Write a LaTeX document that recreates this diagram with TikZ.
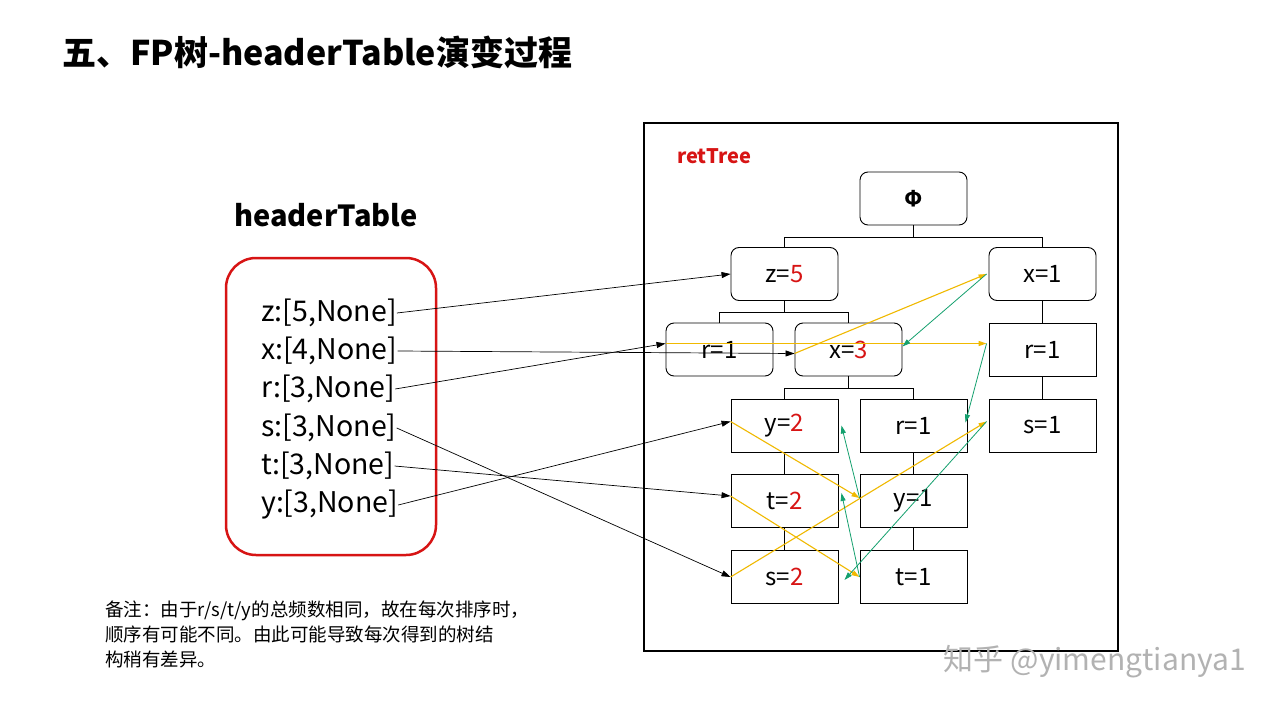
\documentclass[tikz,border=0pt]{standalone}
\usepackage{fontspec}
\setmainfont{Noto Sans CJK SC}
\usetikzlibrary{arrows.meta}
\begin{document}
\begin{tikzpicture}[x=1pt,y=-1pt,
 nd/.style={draw,line width=0.9pt,minimum width=107pt,minimum height=53pt,inner sep=0pt,font=\fontsize{24}{24}\selectfont},
 rnd/.style={nd,rounded corners=8pt},
 tl/.style={line width=0.8pt},
 blk/.style={-{Triangle[length=9pt,width=6pt]},line width=0.7pt},
 yel/.style={-{Triangle[length=8pt,width=5pt]},line width=1.1pt,color={rgb,255:red,240;green,185;blue,0}},
 grn/.style={-{Triangle[length=8pt,width=5pt]},line width=0.8pt,color={rgb,255:red,20;green,160;blue,110}},
 hd/.style={anchor=west,inner sep=0pt,font=\fontsize{28.5}{28.5}\selectfont}]
\useasboundingbox (0,0) rectangle (1280,720);
\fill[white] (0,0) rectangle (1280,720);
\node[anchor=west,inner sep=0pt,font=\fontsize{34}{34}\selectfont\bfseries] (title) at (62,52) {五、FP树-headerTable演变过程};
\node[font=\fontsize{29}{29}\selectfont\bfseries] (ht) at (326,215) {headerTable};
\draw[line width=2.5pt,color={rgb,255:red,215;green,20;blue,20},rounded corners=30pt] (226,258) rectangle (436,555);
\node[hd] (hz) at (261,313) {z:[5,None]};
\node[hd] (hx) at (261,351) {x:[4,None]};
\node[hd] (hr) at (261,389) {r:[3,None]};
\node[hd] (hs) at (261,428) {s:[3,None]};
\node[hd] (hT) at (261,466) {t:[3,None]};
\node[hd] (hy) at (261,505) {y:[3,None]};
\draw[line width=2.5pt] (644,123) rectangle (1118,651);
\node[anchor=west,inner sep=0pt,font=\fontsize{20}{20}\selectfont\bfseries,color={rgb,255:red,215;green,20;blue,20}] (rt) at (677,156) {retTree};
\node[rnd,font=\fontsize{21}{21}\selectfont\bfseries] (phi) at (913.5,198.5) {Φ};
\node[rnd] (z5) at (784.5,274) {z=\textcolor[RGB]{215,20,20}{5}};
\node[rnd] (x1) at (1042.5,274) {x=1};
\node[rnd] (r1a) at (719.5,349.5) {r=1};
\node[rnd] (x3) at (848.5,349.5) {x=\textcolor[RGB]{215,20,20}{3}};
\node[nd] (r1b) at (1042.5,349.5) {r=1};
\node[nd] (y2) at (784.5,425.5) {y=\textcolor[RGB]{215,20,20}{2}};
\node[nd] (r1c) at (913.5,425.5) {r=1};
\node[nd] (s1) at (1042.5,425.5) {s=1};
\node[nd] (t2) at (784.5,501) {t=\textcolor[RGB]{215,20,20}{2}};
\node[nd] (y1) at (913.5,501) {y=1};
\node[nd] (s2) at (784.5,577) {s=\textcolor[RGB]{215,20,20}{2}};
\node[nd] (t1) at (913.5,577) {t=1};
% tree lines
\draw[tl] (phi.south) -- (913.5,237) -| (z5.north);
\draw[tl] (913.5,237) -| (x1.north);
\draw[tl] (z5.south) -- (784.5,312) -| (r1a.north);
\draw[tl] (784.5,312) -| (x3.north);
\draw[tl] (x3.south) -- (848.5,388) -| (y2.north);
\draw[tl] (848.5,388) -| (r1c.north);
\draw[tl] (x1) -- (r1b) (r1b) -- (s1) (y2) -- (t2) (t2) -- (s2) (r1c) -- (y1) (y1) -- (t1);
% black
\draw[blk] (hz.east) -- (z5.west);
\draw[blk] (hx.east) -- ([yshift=-4pt]x3.west);
\draw[blk] (hr.east) -- ([yshift=6pt]r1a.west);
\draw[blk] (hs.east) -- ([yshift=0pt]s2.west);
\draw[blk] (hT.east) -- ([yshift=5pt]t2.west);
\draw[blk] (hy.east) -- ([yshift=4pt]y2.west);
% yellow
\draw[yel] ([yshift=-4pt]x3.west) -- ([xshift=-2pt]x1.west);
\draw[yel] ([yshift=6pt]r1a.west) -- ([yshift=6pt,xshift=-2pt]r1b.west);
\draw[yel] ([yshift=4pt]y2.west) -- ([yshift=3pt]y1.west);
\draw[yel] ([yshift=5pt]t2.west) -- (t1.west);
\draw[yel] (s2.west) -- ([yshift=4pt,xshift=-2pt]s1.west);
% green
\draw[grn] ([xshift=-2pt]x1.west) -- ([yshift=3pt]x3.east);
\draw[grn] ([yshift=6pt,xshift=-2pt]r1b.west) -- ([yshift=3pt,xshift=-2pt]r1c.east);
\draw[grn] ([yshift=3pt]y1.west) -- ([xshift=3pt]y2.east);
\draw[grn] (t1.west) -- ([xshift=3pt,yshift=8pt]t2.east);
\draw[grn] ([yshift=4pt,xshift=-2pt]s1.west) -- ([xshift=6pt,yshift=-3pt]s2.east);
% note
\node[anchor=north west,align=left,font=\fontsize{18.5}{25}\selectfont,inner sep=0pt] (note) at (105,601) {备注：由于r/s/t/y的总频数相同，故在每次排序时，\\顺序有可能不同。由此可能导致每次得到的树结\\构稍有差异。};
\node[anchor=east,font=\fontsize{30}{30}\selectfont,color=black!30,inner sep=0pt] (wm) at (1246,662) {知乎 @yimengtianya1};
\end{tikzpicture}
\end{document}
